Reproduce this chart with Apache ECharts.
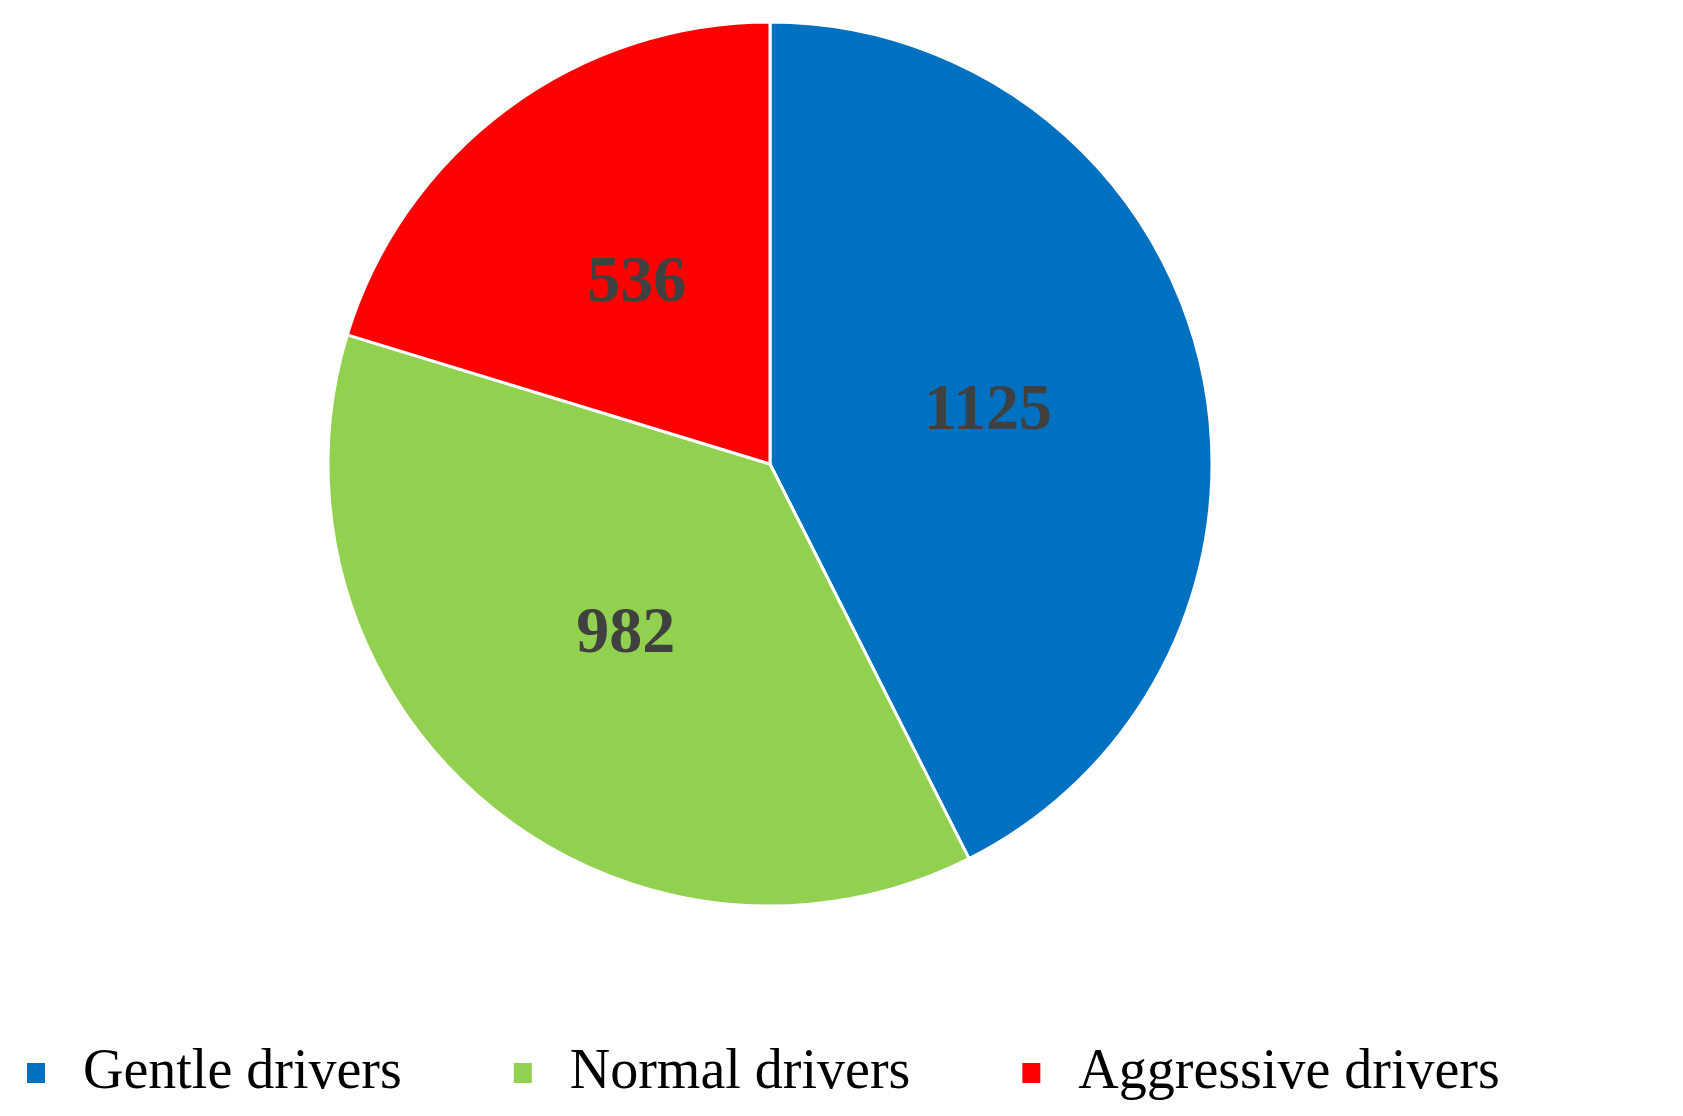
<!DOCTYPE html><html><head><meta charset="utf-8">
<script src="https://cdn.jsdelivr.net/npm/echarts@6/dist/echarts.min.js"></script>
<style>html,body{margin:0;padding:0;background:#fff}#c{width:1683px;height:1116px}</style></head>
<body><div id="c"></div><script>
const categories = ['Gentle drivers','Normal drivers','Aggressive drivers'];
const values = [1125, 982, 536];
const colors = ['#0070C0','#92D050','#FF0000'];
const chart = echarts.init(document.getElementById('c'));
chart.setOption({
  animation:false,
  legend:{left:20,top:1040,itemWidth:20,itemHeight:22,itemGap:110,icon:'rect',
    data:categories,
    textStyle:{fontFamily:'Liberation Serif',fontSize:56,color:'#000',padding:[0,0,0,32]}},
  series:[{type:'pie',center:[770,464],radius:[0,442],startAngle:90,clockwise:true,
    itemStyle:{borderColor:'#fff',borderWidth:3},
    label:{show:true,position:'inside',formatter:'{c}',fontFamily:'Liberation Serif',fontWeight:'bold',fontSize:66,color:'#404040'},
    labelLine:{show:false},
    data:categories.map((n,i)=>({name:n,value:values[i],itemStyle:{color:colors[i]}}))}]
});
</script></body></html>
